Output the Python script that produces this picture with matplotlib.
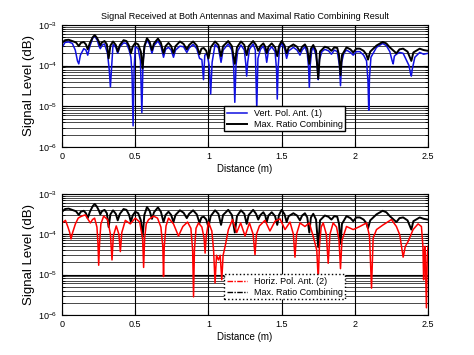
import matplotlib
matplotlib.use("Agg")
import matplotlib.pyplot as plt
from matplotlib.lines import Line2D

plt.rcParams['font.family'] = ['Liberation Sans', 'DejaVu Sans']

# Max. ratio combining result (same curve in both panels)
mrc_x = [0.0, 0.02, 0.045, 0.07, 0.095, 0.114, 0.128, 0.148, 0.163, 0.175,
         0.19, 0.21, 0.223, 0.238, 0.252, 0.261, 0.272, 0.29, 0.306, 0.318,
         0.33, 0.348, 0.367, 0.38, 0.395, 0.42, 0.44, 0.458, 0.47, 0.482,
         0.5, 0.52, 0.538, 0.55, 0.562, 0.58, 0.598, 0.614, 0.628, 0.655,
         0.675, 0.693, 0.707, 0.727, 0.745, 0.761, 0.775, 0.805, 0.83, 0.852,
         0.868, 0.895, 0.92, 0.939, 0.952, 0.968, 0.985, 1.0, 1.015, 1.045,
         1.068, 1.086, 1.1, 1.135, 1.16, 1.18, 1.195, 1.222, 1.245, 1.261,
         1.275, 1.305, 1.325, 1.34, 1.355, 1.375, 1.388, 1.398, 1.41, 1.432,
         1.455, 1.47, 1.482, 1.5, 1.52, 1.534, 1.548, 1.58, 1.605, 1.625,
         1.64, 1.659, 1.675, 1.689, 1.7, 1.716, 1.735, 1.75, 1.762, 1.795,
         1.82, 1.84, 1.86, 1.88, 1.892, 1.902, 1.912, 1.943, 1.97, 1.989,
         2.01, 2.034, 2.06, 2.078, 2.09, 2.105, 2.148, 2.19, 2.215, 2.239,
         2.26, 2.284, 2.305, 2.33, 2.36, 2.386, 2.4, 2.443, 2.47, 2.5]
mrc_y = [3.6e-4, 4.2e-4, 4.3e-4, 4.0e-4, 3.7e-4, 3.0e-4, 3.6e-4, 3.8e-4, 3.3e-4, 2.5e-4,
         3.6e-4, 5.0e-4, 5.6e-4, 4.8e-4, 3.8e-4, 3.1e-4, 3.7e-4, 4.0e-4, 3.3e-4, 1.5e-4,
         3.1e-4, 3.9e-4, 3.2e-4, 2.2e-4, 3.2e-4, 4.2e-4, 4.0e-4, 3.0e-4, 2.0e-4, 2.9e-4,
         3.6e-4, 3.3e-4, 2.2e-4, 8.5e-5, 3.0e-4, 4.7e-4, 3.8e-4, 2.4e-4, 3.5e-4, 4.6e-4,
         3.6e-4, 2.0e-4, 3.0e-4, 3.6e-4, 3.0e-4, 2.0e-4, 3.0e-4, 3.9e-4, 3.4e-4, 2.5e-4,
         3.2e-4, 3.9e-4, 3.1e-4, 1.9e-4, 2.6e-4, 2.7e-4, 2.3e-4, 1.5e-4, 2.8e-4, 3.9e-4,
         3.2e-4, 1.7e-4, 3.0e-4, 4.0e-4, 3.0e-4, 1.1e-4, 2.8e-4, 3.9e-4, 3.2e-4, 1.8e-4,
         3.0e-4, 4.0e-4, 3.2e-4, 2.3e-4, 3.0e-4, 3.5e-4, 2.9e-4, 2.0e-4, 2.9e-4, 3.5e-4,
         2.8e-4, 1.7e-4, 3.0e-4, 4.0e-4, 3.1e-4, 2.0e-4, 2.8e-4, 3.3e-4, 2.9e-4, 2.2e-4,
         2.9e-4, 3.3e-4, 2.6e-4, 1.1e-4, 2.6e-4, 3.2e-4, 2.3e-4, 4.8e-5, 2.2e-4, 2.9e-4,
         2.7e-4, 2.3e-4, 2.8e-4, 2.7e-4, 1.8e-4, 5.8e-5, 1.8e-4, 2.8e-4, 2.5e-4, 2.1e-4,
         2.6e-4, 2.6e-4, 2.3e-4, 1.9e-4, 1.4e-4, 2.2e-4, 3.1e-4, 3.8e-4, 3.5e-4, 2.8e-4,
         2.4e-4, 2.0e-4, 2.5e-4, 2.6e-4, 2.2e-4, 1.3e-4, 2.1e-4, 2.6e-4, 2.4e-4, 2.3e-4]

# Vertical polarisation antenna (1)
vert_x = [0.0, 0.02, 0.045, 0.07, 0.09, 0.105, 0.114, 0.125, 0.148, 0.163,
          0.175, 0.19, 0.21, 0.223, 0.24, 0.252, 0.261, 0.275, 0.29, 0.31,
          0.322, 0.33, 0.338, 0.348, 0.367, 0.38, 0.395, 0.42, 0.44, 0.458,
          0.47, 0.478, 0.485, 0.492, 0.5, 0.52, 0.535, 0.545, 0.553, 0.565,
          0.58, 0.598, 0.614, 0.628, 0.655, 0.675, 0.693, 0.707, 0.727, 0.745,
          0.761, 0.775, 0.805, 0.83, 0.852, 0.868, 0.895, 0.92, 0.939, 0.955,
          0.966, 0.975, 0.99, 1.005, 1.015, 1.025, 1.045, 1.068, 1.086, 1.1,
          1.135, 1.16, 1.172, 1.18, 1.188, 1.2, 1.222, 1.245, 1.255, 1.261,
          1.268, 1.28, 1.305, 1.32, 1.33, 1.338, 1.355, 1.375, 1.388, 1.398,
          1.41, 1.432, 1.455, 1.465, 1.47, 1.476, 1.485, 1.5, 1.52, 1.534,
          1.548, 1.58, 1.605, 1.625, 1.64, 1.659, 1.675, 1.684, 1.689, 1.695,
          1.705, 1.716, 1.735, 1.745, 1.75, 1.758, 1.775, 1.795, 1.82, 1.84,
          1.86, 1.88, 1.895, 1.902, 1.91, 1.925, 1.943, 1.97, 1.989, 2.01,
          2.034, 2.06, 2.08, 2.09, 2.095, 2.1, 2.11, 2.148, 2.19, 2.215,
          2.239, 2.255, 2.262, 2.27, 2.284, 2.305, 2.33, 2.355, 2.37, 2.382,
          2.386, 2.392, 2.41, 2.443, 2.47, 2.5]
vert_y = [2.8e-4, 3.7e-4, 3.8e-4, 3.5e-4, 2.4e-4, 1.3e-4, 1.1e-4, 1.8e-4, 2.6e-4, 2.4e-4,
          1.8e-4, 3.0e-4, 4.8e-4, 5.3e-4, 4.2e-4, 3.0e-4, 2.6e-4, 3.2e-4, 3.4e-4, 2.0e-4,
          8.0e-5, 3.0e-5, 9.0e-5, 3.3e-4, 2.8e-4, 2.0e-4, 2.9e-4, 3.6e-4, 3.5e-4, 2.4e-4,
          1.6e-4, 6.0e-5, 3.3e-6, 8.0e-5, 2.9e-4, 2.6e-4, 1.3e-4, 7.0e-6, 1.3e-4, 3.0e-4,
          4.2e-4, 3.3e-4, 2.0e-4, 3.1e-4, 4.0e-4, 3.0e-4, 1.6e-4, 2.5e-4, 2.8e-4, 2.4e-4,
          1.6e-4, 2.4e-4, 3.0e-4, 2.9e-4, 2.1e-4, 2.7e-4, 3.3e-4, 2.6e-4, 1.5e-4, 1.4e-4,
          4.5e-5, 1.8e-4, 2.0e-4, 1.0e-4, 2.0e-5, 1.2e-4, 3.3e-4, 2.7e-4, 1.2e-4, 2.4e-4,
          3.4e-4, 2.4e-4, 1.0e-4, 1.25e-5, 1.0e-4, 2.3e-4, 3.2e-4, 2.4e-4, 1.1e-4, 5.5e-5,
          1.2e-4, 2.5e-4, 3.4e-4, 2.4e-4, 8.5e-6, 1.5e-4, 2.5e-4, 3.0e-4, 2.2e-4, 1.2e-4,
          2.3e-4, 2.9e-4, 2.2e-4, 8.0e-5, 1.5e-5, 9.0e-5, 2.6e-4, 3.6e-4, 2.6e-4, 1.5e-4,
          2.3e-4, 2.8e-4, 2.4e-4, 1.8e-4, 2.4e-4, 2.9e-4, 2.0e-4, 9.0e-5, 2.9e-5, 1.0e-4,
          2.3e-4, 2.8e-4, 1.8e-4, 8.0e-5, 4.5e-5, 1.4e-4, 2.2e-4, 2.5e-4, 2.3e-4, 1.9e-4,
          2.4e-4, 2.2e-4, 1.0e-4, 3.2e-5, 1.2e-4, 2.0e-4, 2.4e-4, 2.1e-4, 1.8e-4, 2.2e-4,
          2.2e-4, 1.8e-4, 1.3e-4, 4.0e-5, 8.0e-6, 5.0e-5, 1.6e-4, 2.8e-4, 3.5e-4, 3.1e-4,
          2.2e-4, 1.3e-4, 1.1e-4, 1.7e-4, 1.9e-4, 2.1e-4, 2.0e-4, 1.3e-4, 1.0e-4, 6.0e-5,
          5.5e-5, 8.0e-5, 1.6e-4, 2.1e-4, 1.9e-4, 2.0e-4]

# Horizontal polarisation antenna (2)
horiz_x = [0.0, 0.023, 0.04, 0.052, 0.061, 0.072, 0.091, 0.11, 0.125, 0.145,
           0.159, 0.175, 0.193, 0.208, 0.222, 0.238, 0.245, 0.25, 0.256, 0.265,
           0.284, 0.311, 0.33, 0.341, 0.35, 0.37, 0.388, 0.398, 0.408, 0.432,
           0.466, 0.5, 0.53, 0.55, 0.557, 0.564, 0.575, 0.591, 0.625, 0.652,
           0.675, 0.688, 0.693, 0.698, 0.71, 0.727, 0.761, 0.795, 0.825, 0.857,
           0.88, 0.892, 0.898, 0.904, 0.915, 0.932, 0.955, 0.97, 0.977, 0.985,
           1.0, 1.023, 1.035, 1.045, 1.055, 1.068, 1.08, 1.091, 1.1, 1.114,
           1.136, 1.164, 1.193, 1.22, 1.25, 1.28, 1.305, 1.318, 1.328, 1.348,
           1.386, 1.42, 1.455, 1.489, 1.523, 1.557, 1.58, 1.591, 1.602, 1.625,
           1.659, 1.689, 1.716, 1.74, 1.75, 1.758, 1.77, 1.784, 1.805, 1.818,
           1.83, 1.852, 1.875, 1.892, 1.902, 1.912, 1.943, 1.989, 2.034, 2.08,
           2.1, 2.114, 2.125, 2.148, 2.193, 2.25, 2.284, 2.307, 2.33, 2.345,
           2.364, 2.398, 2.432, 2.455, 2.465, 2.47, 2.475, 2.48, 2.489, 2.495, 2.5]
horiz_y = [1.9e-4, 2.2e-4, 1.5e-4, 1.1e-4, 7.6e-5, 1.1e-4, 1.8e-4, 2.5e-4, 2.7e-4, 2.9e-4,
           3.0e-4, 2.4e-4, 1.9e-4, 2.3e-4, 2.5e-4, 1.5e-4, 6.0e-5, 1.7e-5, 6.0e-5, 1.8e-4,
           2.8e-4, 2.3e-4, 1.0e-4, 2.3e-5, 9.0e-5, 1.6e-4, 1.0e-4, 3.7e-5, 1.1e-4, 2.2e-4,
           1.8e-4, 2.5e-4, 2.0e-4, 8.0e-5, 1.5e-5, 8.0e-5, 1.8e-4, 2.3e-4, 2.8e-4, 2.5e-4,
           1.5e-4, 5.0e-5, 8.9e-6, 5.0e-5, 1.6e-4, 2.5e-4, 1.8e-4, 9.0e-5, 1.55e-4, 2.0e-4,
           1.4e-4, 4.0e-5, 2.8e-6, 4.0e-5, 1.4e-4, 1.9e-4, 1.5e-4, 8.0e-5, 3.4e-5, 9.0e-5,
           2.0e-4, 1.2e-4, 4.0e-5, 6.2e-6, 3.0e-5, 2.3e-5, 3.0e-5, 7.4e-6, 3.0e-5, 5.0e-5,
           1.3e-4, 2.3e-4, 1.1e-4, 1.9e-4, 9.0e-5, 1.9e-4, 1.0e-4, 3.1e-5, 1.0e-4, 1.6e-4,
           2.2e-4, 1.2e-4, 2.1e-4, 2.4e-4, 1.3e-4, 2.0e-4, 1.0e-4, 2.7e-5, 1.0e-4, 1.9e-4,
           1.55e-4, 1.9e-4, 8.7e-5, 4.0e-5, 7.4e-6, 5.0e-5, 1.5e-4, 1.9e-4, 1.0e-4, 1.9e-5,
           1.0e-4, 1.9e-4, 1.5e-4, 7.0e-5, 1.4e-5, 7.0e-5, 1.55e-4, 1.3e-4, 1.55e-4, 1.9e-4,
           9.0e-5, 4.6e-6, 8.0e-5, 1.3e-4, 1.7e-4, 2.3e-4, 1.55e-4, 9.6e-5, 2.7e-5, 5.0e-5,
           6.6e-5, 1.3e-4, 1.8e-4, 1.55e-4, 5.0e-5, 7.4e-6, 4.0e-5, 5.0e-5, 1.5e-6, 3.0e-5, 5.0e-5]

fig = plt.figure(figsize=(4.74, 3.55), dpi=100)
ax1 = fig.add_axes([0.131, 0.586, 0.772, 0.344])
ax2 = fig.add_axes([0.131, 0.113, 0.772, 0.341])

dashdot = (0, (4, 1, 1, 1))


def style(ax):
    ax.set_yscale('log')
    ax.set_xlim(0, 2.5)
    ax.set_ylim(1e-6, 1e-3)
    ax.set_xticks([0, 0.5, 1, 1.5, 2, 2.5])
    ax.set_xticklabels(['0', '0.5', '1', '1.5', '2', '2.5'])
    ax.grid(True, which='major', axis='both', color='black', linewidth=0.8)
    ax.grid(True, which='minor', axis='y', color='black', linewidth=0.5)
    ax.tick_params(direction='in', labelsize=6.5, which='both', top=True, right=True)
    ax.set_xlabel('Distance (m)', fontsize=7, labelpad=2)
    ax.set_ylabel('Signal Level (dB)', fontsize=9.5, labelpad=2)
    ax.set_axisbelow(True)


# top panel
ax1.plot(vert_x, vert_y, color='#1010e0', lw=1.1, label='Vert. Pol. Ant. (1)')
ax1.plot(mrc_x, mrc_y, color='black', lw=1.4, label='Max. Ratio Combining')
style(ax1)
ax1.set_title('Signal Received at Both Antennas and Maximal Ratio Combining Result',
              fontsize=6.5, pad=4)
leg1 = ax1.legend(loc='lower left', bbox_to_anchor=(0.43, 0.09), fontsize=6.5,
                  fancybox=False, framealpha=1, edgecolor='black',
                  handlelength=2.2, borderpad=0.3, labelspacing=0.2)
leg1.get_frame().set_linewidth(1.0)

# bottom panel
ax2.plot(mrc_x, mrc_y, color='black', lw=1.4)
ax2.plot(horiz_x, horiz_y, color='red', lw=1.1)
style(ax2)
handles = [Line2D([], [], color='red', lw=1.0, linestyle=dashdot),
           Line2D([], [], color='black', lw=1.0, linestyle=dashdot)]
leg2 = ax2.legend(handles, ['Horiz. Pol. Ant. (2)', 'Max. Ratio Combining'],
                  loc='lower left', bbox_to_anchor=(0.43, 0.09), fontsize=6.5,
                  fancybox=False, framealpha=1, edgecolor='black',
                  handlelength=2.2, borderpad=0.3, labelspacing=0.2)
leg2.get_frame().set_linestyle(':')
leg2.get_frame().set_linewidth(1.0)

fig.savefig('out.png', dpi=100)
